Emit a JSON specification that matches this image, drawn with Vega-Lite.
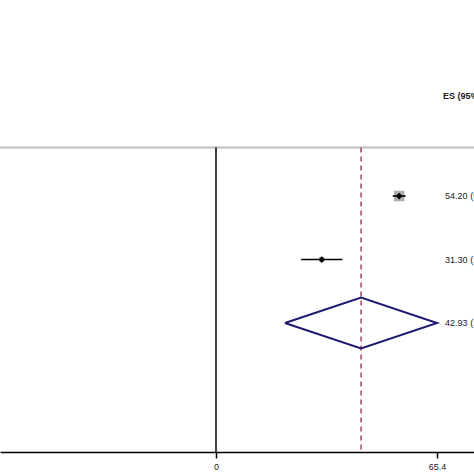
{
  "$schema": "https://vega.github.io/schema/vega-lite/v6.json",
  "width": 474,
  "height": 452,
  "padding": {"left": 0, "top": 0, "right": 0, "bottom": 22},
  "autosize": {"type": "none"},
  "background": "white",
  "config": {"view": {"stroke": null}, "font": "Liberation Sans"},
  "datasets": {
    "studies": [
      {"study": "Study 1", "es": 54.2, "lo": 52.3, "hi": 56.1, "row": 1, "box": 110, "label": "54.20 (52.30, 56.10)"},
      {"study": "Study 2", "es": 31.3, "lo": 25.2, "hi": 37.4, "row": 2, "box": 25, "label": "31.30 (25.20, 37.40)"}
    ],
    "overall": [
      {"es": 42.93, "row": 3, "label": "42.93 (20.40, 65.40)"}
    ],
    "diamond": [
      {"x": 20.4, "y": 3.0, "o": 1},
      {"x": 42.93, "y": 2.6, "o": 2},
      {"x": 65.4, "y": 3.0, "o": 3},
      {"x": 42.93, "y": 3.4, "o": 4},
      {"x": 20.4, "y": 3.0, "o": 5}
    ],
    "header": [{"label": "ES (95% CI)", "row": -0.575}]
  },
  "layer": [
    {
      "data": {"name": "header"},
      "mark": {"type": "rule", "color": "#c8c8c8", "strokeWidth": 2.5},
      "encoding": {
        "y": {"datum": 0.236, "type": "quantitative", "scale": {"domain": [-2.087, 5.031], "reverse": true, "nice": false, "zero": false}, "axis": null}
      }
    },
    {
      "data": {"name": "header"},
      "mark": {"type": "rule", "color": "#000000", "strokeWidth": 1.5},
      "encoding": {
        "x": {"datum": 0, "type": "quantitative", "scale": {"domain": [-63.92, 76.35], "nice": false, "zero": false},
          "axis": {"values": [-65.4, 0, 65.4], "format": ".1~f", "title": null, "grid": false, "domainColor": "#000000", "domainWidth": 1.5, "tickColor": "#000000", "tickWidth": 1.5, "tickSize": 6, "labelFontSize": 9, "labelColor": "#222222", "labelPadding": 4, "labelFlush": false, "labelOverlap": false}},
        "y": {"datum": 0.236, "type": "quantitative", "scale": {"domain": [-2.087, 5.031], "reverse": true, "nice": false, "zero": false}, "axis": null},
        "y2": {"datum": 5.031}
      }
    },
    {
      "data": {"name": "overall"},
      "mark": {"type": "rule", "color": "#9e3a50", "strokeWidth": 1.4, "strokeDash": [5, 4]},
      "encoding": {
        "x": {"field": "es", "type": "quantitative", "scale": {"domain": [-63.92, 76.35], "nice": false, "zero": false}},
        "y": {"datum": 0.236, "type": "quantitative", "scale": {"domain": [-2.087, 5.031], "reverse": true, "nice": false, "zero": false}, "axis": null},
        "y2": {"datum": 5.031}
      }
    },
    {
      "data": {"name": "studies"},
      "mark": {"type": "point", "shape": "square", "filled": true, "color": "#9a9a9a", "opacity": 0.8},
      "encoding": {
        "x": {"field": "es", "type": "quantitative", "scale": {"domain": [-63.92, 76.35], "nice": false, "zero": false}},
        "y": {"field": "row", "type": "quantitative", "scale": {"domain": [-2.087, 5.031], "reverse": true, "nice": false, "zero": false}, "axis": null},
        "size": {"field": "box", "type": "quantitative", "scale": null, "legend": null}
      }
    },
    {
      "data": {"name": "studies"},
      "mark": {"type": "rule", "color": "#000000", "strokeWidth": 1.6},
      "encoding": {
        "x": {"field": "lo", "type": "quantitative", "scale": {"domain": [-63.92, 76.35], "nice": false, "zero": false}},
        "x2": {"field": "hi"},
        "y": {"field": "row", "type": "quantitative", "scale": {"domain": [-2.087, 5.031], "reverse": true, "nice": false, "zero": false}, "axis": null}
      }
    },
    {
      "data": {"name": "studies"},
      "mark": {"type": "point", "shape": "diamond", "filled": true, "color": "#000000", "opacity": 1, "size": 45},
      "encoding": {
        "x": {"field": "es", "type": "quantitative", "scale": {"domain": [-63.92, 76.35], "nice": false, "zero": false}},
        "y": {"field": "row", "type": "quantitative", "scale": {"domain": [-2.087, 5.031], "reverse": true, "nice": false, "zero": false}, "axis": null}
      }
    },
    {
      "data": {"name": "diamond"},
      "mark": {"type": "line", "color": "#1c1c6e", "strokeWidth": 2},
      "encoding": {
        "x": {"field": "x", "type": "quantitative", "scale": {"domain": [-63.92, 76.35], "nice": false, "zero": false}},
        "y": {"field": "y", "type": "quantitative", "scale": {"domain": [-2.087, 5.031], "reverse": true, "nice": false, "zero": false}, "axis": null},
        "order": {"field": "o", "type": "quantitative"}
      }
    },
    {
      "data": {"name": "studies"},
      "mark": {"type": "text", "align": "left", "baseline": "middle", "fontSize": 9, "color": "#222222"},
      "encoding": {
        "x": {"datum": 67.8, "type": "quantitative", "scale": {"domain": [-63.92, 76.35], "nice": false, "zero": false}},
        "y": {"field": "row", "type": "quantitative", "scale": {"domain": [-2.087, 5.031], "reverse": true, "nice": false, "zero": false}, "axis": null},
        "text": {"field": "label"}
      }
    },
    {
      "data": {"name": "overall"},
      "mark": {"type": "text", "align": "left", "baseline": "middle", "fontSize": 9, "color": "#222222"},
      "encoding": {
        "x": {"datum": 67.8, "type": "quantitative", "scale": {"domain": [-63.92, 76.35], "nice": false, "zero": false}},
        "y": {"field": "row", "type": "quantitative", "scale": {"domain": [-2.087, 5.031], "reverse": true, "nice": false, "zero": false}, "axis": null},
        "text": {"field": "label"}
      }
    },
    {
      "data": {"name": "header"},
      "mark": {"type": "text", "align": "left", "baseline": "middle", "fontSize": 9, "fontWeight": "bold", "color": "#222222"},
      "encoding": {
        "x": {"datum": 67.2, "type": "quantitative", "scale": {"domain": [-63.92, 76.35], "nice": false, "zero": false}},
        "y": {"field": "row", "type": "quantitative", "scale": {"domain": [-2.087, 5.031], "reverse": true, "nice": false, "zero": false}, "axis": null},
        "text": {"field": "label"}
      }
    }
  ]
}
